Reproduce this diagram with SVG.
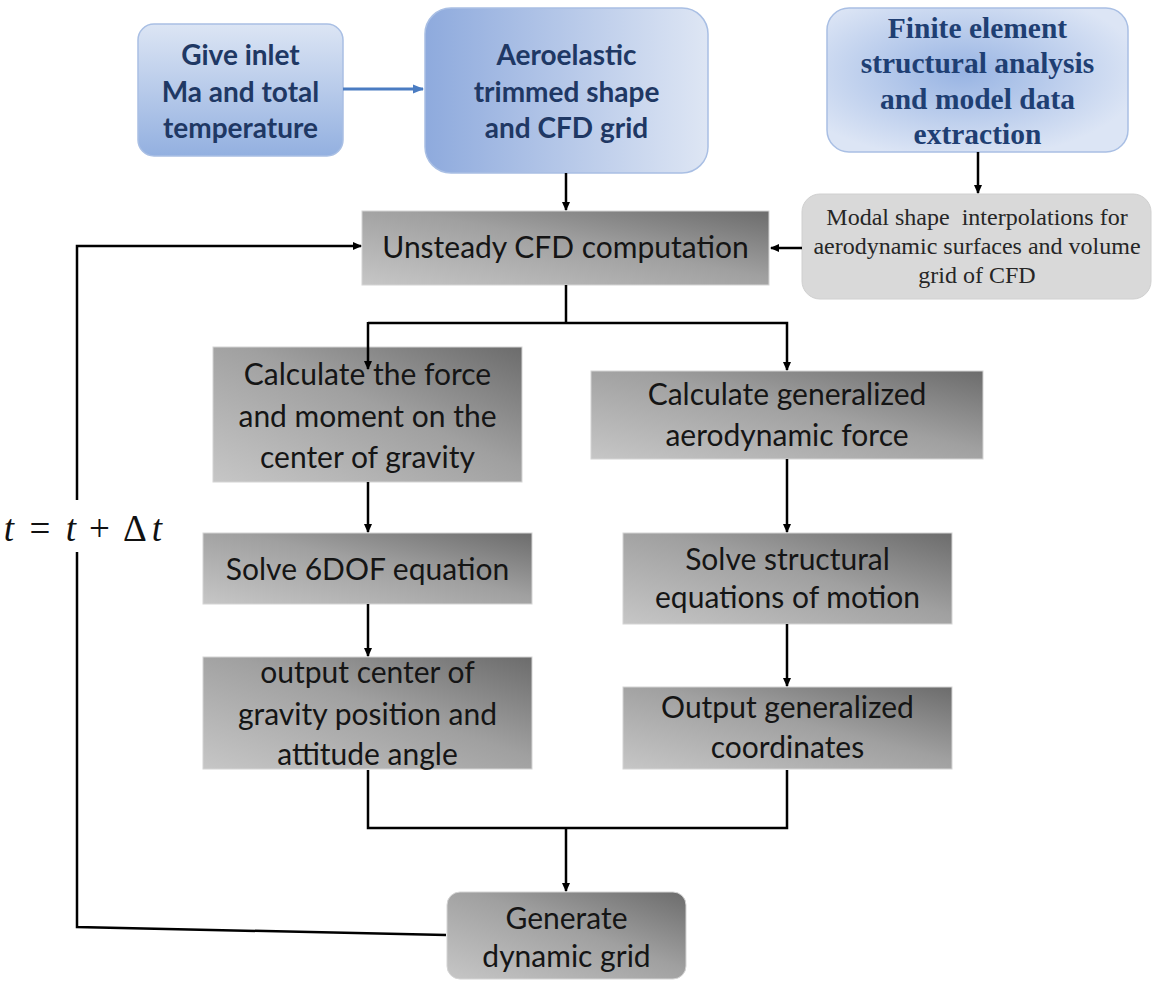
<svg xmlns="http://www.w3.org/2000/svg" width="1155" height="984" viewBox="0 0 1155 984">
<style>
.g{font-family:Lato,"Liberation Sans",sans-serif;font-size:30px;fill:#151515;text-anchor:middle}
.b{font-family:Lato,"Liberation Sans",sans-serif;font-size:28px;font-weight:bold;fill:#1f3864;text-anchor:middle}
.sb{font-family:"Liberation Serif",serif;font-size:29.5px;font-weight:bold;fill:#1f3f73;text-anchor:middle}
.sr{font-family:"Liberation Serif",serif;font-size:24px;fill:#262626;text-anchor:middle}
.m{font-family:"Liberation Serif",serif;font-size:37px;fill:#111;text-anchor:middle}
.gray{fill:url(#gg);stroke:#d4d4d4;stroke-width:1}
.ln{fill:none;stroke:#000;stroke-width:2.5}
</style>
<defs>
<linearGradient id="gg" x1="0" y1="1" x2="1" y2="0">
<stop offset="0" stop-color="#c6c6c6"/>
<stop offset="0.55" stop-color="#a0a0a0"/>
<stop offset="1" stop-color="#6c6c6c"/>
</linearGradient>
<linearGradient id="bv" x1="0" y1="0" x2="0" y2="1">
<stop offset="0" stop-color="#dce5f4"/>
<stop offset="1" stop-color="#93b0e0"/>
</linearGradient>
<linearGradient id="bh" x1="0" y1="0" x2="1" y2="0">
<stop offset="0" stop-color="#8eaadd"/>
<stop offset="1" stop-color="#dee6f4"/>
</linearGradient>
<radialGradient id="br" cx="0.45" cy="0.45" r="0.6">
<stop offset="0" stop-color="#98b4e3"/>
<stop offset="1" stop-color="#dce5f5"/>
</radialGradient>
<marker id="ah" markerWidth="10" markerHeight="10" refX="8" refY="5" orient="auto" markerUnits="userSpaceOnUse">
<path d="M0,1 L9,5 L0,9 Z" fill="#000"/>
</marker>
<marker id="ahb" markerWidth="12" markerHeight="12" refX="10" refY="6" orient="auto" markerUnits="userSpaceOnUse">
<path d="M0,1.5 L11,6 L0,10.5 Z" fill="#4a7cc2"/>
</marker>
</defs>

<g id="n-inlet">
<rect x="138" y="24" width="205" height="132" rx="16" fill="url(#bv)" stroke="#a9bfe4" stroke-width="1.5"/>
<text class="b" x="240.5" y="65">Give inlet</text>
<text class="b" x="240.5" y="102">Ma and total</text>
<text class="b" x="240.5" y="138">temperature</text>
</g>

<g id="n-aero">
<rect x="425" y="8" width="283" height="165" rx="26" fill="url(#bh)" stroke="#a9bfe4" stroke-width="1.5"/>
<text class="b" x="566.5" y="65">Aeroelastic</text>
<text class="b" x="566.5" y="102">trimmed shape</text>
<text class="b" x="566.5" y="138">and CFD grid</text>
</g>

<g id="n-fem">
<rect x="827" y="8" width="301" height="144" rx="22" fill="url(#br)" stroke="#a9bfe4" stroke-width="1.5"/>
<text class="sb" x="977.5" y="38">Finite element</text>
<text class="sb" x="977.5" y="73">structural analysis</text>
<text class="sb" x="977.5" y="109">and model data</text>
<text class="sb" x="977.5" y="144">extraction</text>
</g>

<g id="n-modal">
<rect x="802" y="194" width="349" height="105" rx="18" fill="#d9d9d9" stroke="#d0d0d0" stroke-width="1"/>
<text class="sr" x="977" y="225" xml:space="preserve">Modal shape  interpolations for</text>
<text class="sr" x="977" y="254">aerodynamic surfaces and volume</text>
<text class="sr" x="977" y="283">grid of CFD</text>
</g>

<g id="n-cfd">
<rect class="gray" x="362" y="211" width="407" height="74"/>
<text class="g" x="565.5" y="258">Unsteady CFD computation</text>
</g>

<g id="n-force">
<rect class="gray" x="213" y="347" width="309" height="135"/>
<text class="g" x="367.5" y="385">Calculate the force</text>
<text class="g" x="367.5" y="427">and moment on the</text>
<text class="g" x="367.5" y="468">center of gravity</text>
</g>

<g id="n-gaf">
<rect class="gray" x="591" y="371" width="392" height="88"/>
<text class="g" x="787" y="405">Calculate generalized</text>
<text class="g" x="787" y="446">aerodynamic force</text>
</g>

<g id="n-6dof">
<rect class="gray" x="203" y="533" width="329" height="71"/>
<text class="g" x="367.5" y="580">Solve 6DOF equation</text>
</g>

<g id="n-cg">
<rect class="gray" x="203" y="657" width="329" height="112"/>
<text class="g" x="367.5" y="683">output center of</text>
<text class="g" x="367.5" y="725">gravity position and</text>
<text class="g" x="367.5" y="765">attitude angle</text>
</g>

<g id="n-struct">
<rect class="gray" x="623" y="533" width="329" height="91"/>
<text class="g" x="787.5" y="570">Solve structural</text>
<text class="g" x="787.5" y="608">equations of motion</text>
</g>

<g id="n-coord">
<rect class="gray" x="623" y="687" width="329" height="82"/>
<text class="g" x="787.5" y="718">Output generalized</text>
<text class="g" x="787.5" y="758">coordinates</text>
</g>

<g id="n-grid">
<rect class="gray" x="447" y="892" width="239" height="87" rx="13"/>
<text class="g" x="566.5" y="929">Generate</text>
<text class="g" x="566.5" y="967">dynamic grid</text>
</g>

<g id="label-dt">
<text class="m" y="541"><tspan x="9" font-style="italic">t</tspan><tspan x="40">=</tspan><tspan x="71" font-style="italic">t</tspan><tspan x="99.5">+</tspan><tspan x="135">Δ</tspan><tspan x="157" font-style="italic">t</tspan></text>
</g>

<g id="connectors">
<line x1="343" y1="89" x2="423" y2="89" stroke="#4a7cc2" stroke-width="3" marker-end="url(#ahb)"/>
<line class="ln" x1="566" y1="173" x2="566" y2="210" marker-end="url(#ah)"/>
<line class="ln" x1="978" y1="152" x2="978" y2="193" marker-end="url(#ah)"/>
<line class="ln" x1="802" y1="248" x2="771" y2="248" marker-end="url(#ah)"/>
<polyline class="ln" points="566,285 566,323"/>
<polyline class="ln" points="368,323 787,323 787,370" marker-end="url(#ah)"/>
<line class="ln" x1="368" y1="322" x2="368" y2="369" marker-end="url(#ah)"/>
<line class="ln" x1="368" y1="482" x2="368" y2="532" marker-end="url(#ah)"/>
<line class="ln" x1="368" y1="604" x2="368" y2="656" marker-end="url(#ah)"/>
<line class="ln" x1="787" y1="459" x2="787" y2="532" marker-end="url(#ah)"/>
<line class="ln" x1="787" y1="624" x2="787" y2="686" marker-end="url(#ah)"/>
<polyline class="ln" points="368,770 368,828 787,828 787,770"/>
<line class="ln" x1="566" y1="828" x2="566" y2="891" marker-end="url(#ah)"/>
<polyline class="ln" points="446,935 77,927 77,552"/>
<polyline class="ln" points="77,500 77,246 361,246" marker-end="url(#ah)"/>
</g>
</svg>
